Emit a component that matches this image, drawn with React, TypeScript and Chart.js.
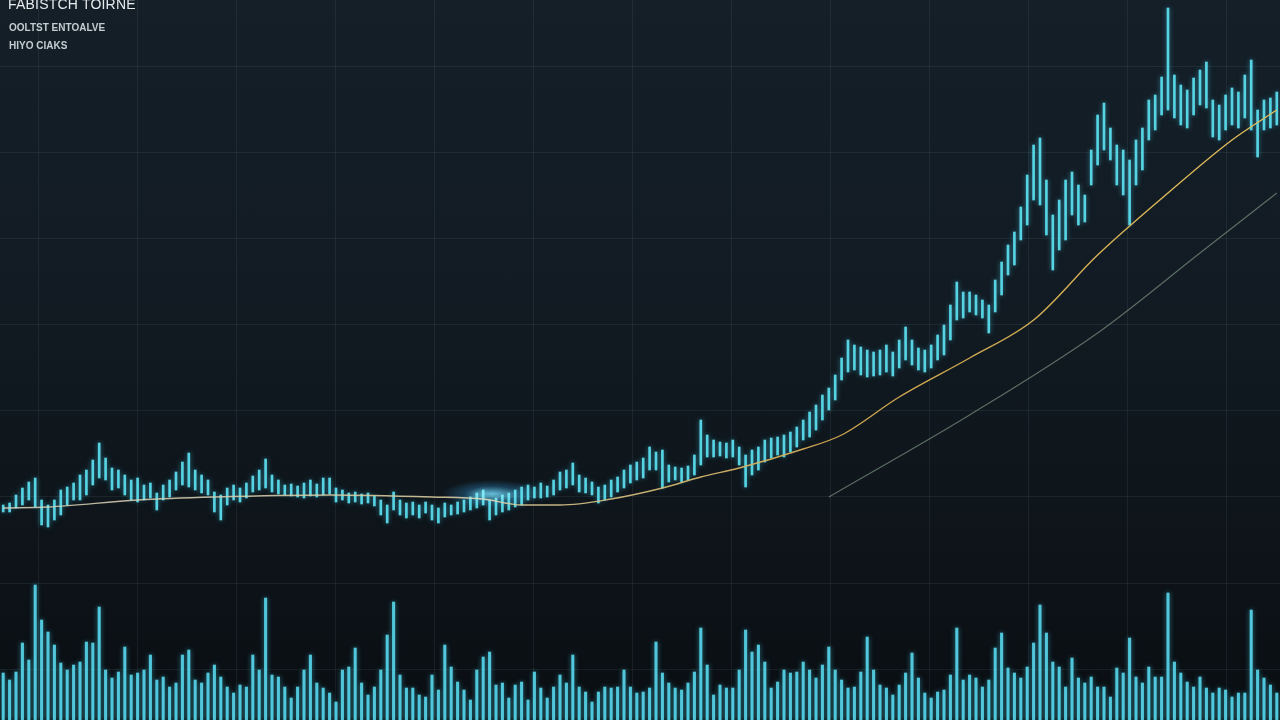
import React, { useEffect, useRef } from "react";
import { Chart, registerables } from "chart.js";

Chart.register(...registerables);

// Title texts (top-left)
const titleLine = "FABISTCH TOIRNE";
const subLine1 = "OOLTST ENTOALVE";
const subLine2 = "HIYO CIAKS";

// Price bars: high / low per session
const highs = [
  215, 217, 225, 232, 238, 242, 220, 215, 220, 230, 233, 237, 245, 250, 260, 277, 262, 252, 250, 245,
  240, 242, 235, 237, 227, 235, 240, 248, 258, 267, 250, 245, 240, 228, 225, 232, 235, 232, 237, 244,
  250, 261, 245, 240, 235, 236, 234, 237, 240, 236, 242, 242, 232, 230, 227, 228, 226, 227, 224, 220,
  215, 228, 220, 217, 218, 215, 218, 215, 212, 217, 215, 218, 220, 223, 227, 230, 220, 222, 225, 227,
  230, 233, 235, 233, 237, 234, 240, 248, 250, 257, 245, 242, 238, 233, 235, 240, 243, 250, 255, 258,
  262, 273, 268, 270, 255, 253, 252, 254, 265, 300, 285, 280, 278, 277, 280, 273, 265, 270, 273, 280,
  282, 283, 285, 288, 293, 300, 308, 315, 325, 332, 345, 362, 380, 375, 373, 370, 368, 370, 375, 368,
  380, 393, 380, 372, 370, 375, 385, 395, 415, 438, 428, 428, 425, 420, 415, 440, 458, 475, 488, 513,
  545, 575, 582, 540, 505, 520, 540, 548, 535, 525, 570, 605, 617, 592, 575, 570, 560, 580, 592, 620,
  625, 643, 712, 645, 635, 630, 642, 650, 658, 620, 615, 625, 632, 628, 645, 660, 610, 620, 622, 628,
];
const lows = [
  208, 208, 212, 215, 220, 213, 195, 193, 200, 205, 215, 220, 220, 225, 235, 242, 240, 230, 232, 225,
  220, 218, 220, 222, 210, 220, 223, 230, 235, 233, 230, 227, 225, 208, 200, 215, 220, 218, 222, 228,
  230, 232, 228, 226, 225, 224, 223, 222, 224, 223, 225, 226, 218, 220, 217, 218, 216, 217, 214, 205,
  197, 210, 205, 202, 205, 202, 207, 200, 197, 203, 205, 206, 208, 210, 212, 215, 200, 205, 208, 210,
  213, 215, 220, 222, 222, 223, 225, 230, 232, 235, 228, 227, 225, 217, 220, 223, 228, 232, 237, 240,
  242, 250, 250, 232, 238, 240, 238, 240, 245, 255, 263, 263, 264, 262, 263, 255, 233, 245, 250, 258,
  262, 265, 263, 268, 273, 280, 283, 290, 300, 310, 320, 340, 348, 350, 345, 343, 344, 345, 348, 344,
  352, 360, 355, 350, 348, 352, 360, 365, 380, 400, 402, 408, 405, 402, 387, 408, 425, 445, 455, 480,
  495, 520, 515, 485, 450, 470, 480, 505, 495, 498, 535, 555, 570, 560, 535, 525, 495, 535, 550, 580,
  590, 605, 610, 602, 595, 592, 605, 615, 612, 583, 580, 590, 595, 592, 602, 590, 563, 590, 592, 595,
];

// Volume per session
const volumes = [
  47, 40, 48, 77, 60, 135, 100, 88, 75, 57, 50, 55, 58, 78, 77, 113, 50, 42, 48, 73,
  45, 47, 50, 65, 40, 43, 33, 37, 65, 70, 40, 37, 47, 55, 43, 33, 27, 35, 33, 65,
  50, 122, 45, 43, 33, 22, 33, 50, 65, 37, 32, 27, 18, 50, 53, 72, 37, 25, 33, 50,
  85, 118, 45, 32, 32, 25, 23, 45, 30, 75, 53, 38, 30, 20, 50, 63, 68, 35, 37, 22,
  35, 38, 20, 48, 32, 22, 33, 45, 37, 65, 33, 28, 18, 28, 33, 32, 33, 50, 33, 27,
  28, 32, 78, 47, 37, 32, 30, 37, 48, 92, 55, 25, 35, 32, 32, 50, 90, 68, 75, 58,
  32, 38, 50, 47, 48, 58, 50, 42, 55, 73, 50, 40, 32, 33, 48, 83, 50, 35, 32, 25,
  35, 47, 67, 42, 27, 22, 28, 30, 45, 92, 40, 45, 42, 33, 40, 72, 87, 52, 47, 42,
  53, 77, 115, 87, 58, 53, 33, 62, 42, 37, 43, 33, 33, 23, 52, 47, 82, 43, 37, 53,
  43, 43, 127, 58, 47, 38, 33, 43, 32, 27, 32, 30, 23, 27, 27, 110, 50, 42, 35, 27,
];

// Moving average (session index, value)
const maIndex = [0, 7, 21, 33, 51, 67, 75, 81, 87, 95, 103, 109, 115, 125, 131, 140, 151, 161, 171, 182, 192, 199];
const maValue = [212, 213, 220, 223, 225, 223, 221, 215, 215, 221, 232, 243, 252, 271, 285, 323, 362, 400, 465, 527, 580, 610];

// Long moving average (session index, value)
const longIndex = [129, 151, 171, 187, 199];
const longValue = [223, 305, 387, 467, 527];

const sessionLabels = highs.map((_, i) => `T${i + 1}`);

export default function App() {
  const canvasRef = useRef<HTMLCanvasElement | null>(null);

  useEffect(() => {
    const canvas = canvasRef.current;
    if (!canvas) return;

    const glowPlugin = {
      id: "barGlow",
      beforeDatasetDraw(chart: any, args: any) {
        const ds = chart.data.datasets[args.index];
        const c = chart.ctx;
        c.save();
        if (ds.type === "bar") {
          c.shadowColor = "rgba(70, 210, 240, 0.55)";
          c.shadowBlur = 5;
        }
      },
      afterDatasetDraw(chart: any) {
        chart.ctx.restore();
      },
    };

    const gridColor = "rgba(150, 185, 205, 0.09)";

    const chart = new Chart(canvas, {
      type: "bar",
      data: {
        labels: sessionLabels,
        datasets: [
          {
            type: "bar",
            label: "Volume",
            data: volumes,
            yAxisID: "yVol",
            xAxisID: "x",
            grouped: false,
            barThickness: 2.4,
            backgroundColor: "rgba(84, 208, 228, 0.95)",
            borderWidth: 0,
            order: 3,
          } as any,
          {
            type: "bar",
            label: "Price",
            data: highs.map((h, i) => [lows[i], h]),
            yAxisID: "y",
            xAxisID: "x",
            grouped: false,
            barThickness: 2,
            backgroundColor: "rgba(92, 220, 236, 0.95)",
            borderWidth: 0,
            order: 2,
          } as any,
          {
            type: "line",
            label: "MA",
            data: maIndex.map((x, i) => ({ x, y: maValue[i] })),
            xAxisID: "xLine",
            yAxisID: "y",
            borderWidth: 1.4,
            pointRadius: 0,
            cubicInterpolationMode: "monotone",
            borderColor: (ctx: any) => {
              const area = ctx.chart.chartArea;
              if (!area) return "#d2b060";
              const g = ctx.chart.ctx.createLinearGradient(area.left, 0, area.right, 0);
              g.addColorStop(0, "rgba(215, 210, 190, 0.85)");
              g.addColorStop(0.4, "rgba(215, 200, 150, 0.9)");
              g.addColorStop(0.65, "rgba(212, 170, 80, 0.95)");
              g.addColorStop(1, "rgba(225, 190, 90, 1)");
              return g;
            },
            order: 1,
          } as any,
          {
            type: "line",
            label: "Long MA",
            data: longIndex.map((x, i) => ({ x, y: longValue[i] })),
            xAxisID: "xLine",
            yAxisID: "y",
            borderWidth: 1.2,
            pointRadius: 0,
            cubicInterpolationMode: "monotone",
            borderColor: "rgba(140, 165, 145, 0.6)",
            order: 1,
          } as any,
        ],
      },
      options: {
        responsive: false,
        animation: false,
        devicePixelRatio: 1,
        layout: { padding: 0 },
        plugins: {
          legend: { display: false },
          tooltip: { enabled: false },
          title: { display: false },
        },
        scales: {
          x: {
            type: "category",
            display: false,
            offset: true,
            grid: { display: false },
          },
          xLine: {
            type: "linear",
            display: false,
            offset: false,
            min: -0.5,
            max: 199.5,
          },
          xGrid: {
            type: "linear",
            position: "bottom",
            offset: false,
            min: -0.384,
            max: 12.545,
            display: true,
            ticks: { display: false, stepSize: 1, includeBounds: false },
            border: { display: false },
            grid: { color: gridColor, drawTicks: false, lineWidth: 1, offset: false },
          },
          y: {
            type: "linear",
            display: false,
            min: 0,
            max: 720,
          },
          yVol: {
            type: "linear",
            display: false,
            min: 0,
            max: 720,
          },
          yGrid: {
            type: "linear",
            position: "left",
            min: -0.593,
            max: 7.779,
            display: true,
            ticks: { display: false, stepSize: 1, includeBounds: false },
            border: { display: false },
            grid: { color: gridColor, drawTicks: false, lineWidth: 1 },
          },
        },
      } as any,
      plugins: [glowPlugin],
    });

    return () => {
      chart.destroy();
    };
  }, []);

  return (
    <div
      style={{
        position: "fixed",
        left: 0,
        top: 0,
        width: 1280,
        height: 720,
        overflow: "hidden",
        background:
          "linear-gradient(180deg, #141f28 0%, #121b23 40%, #0e151b 70%, #0a0e12 100%)",
      }}
    >
      <canvas
        ref={canvasRef}
        width={1280}
        height={720}
        style={{ position: "absolute", left: 0, top: 0, width: 1280, height: 720 }}
      />
      <div
        style={{
          position: "absolute",
          left: 440,
          top: 470,
          width: 110,
          height: 50,
          pointerEvents: "none",
          mixBlendMode: "screen",
          background:
            "radial-gradient(ellipse 50px 14px at 52px 24px, rgba(110, 220, 255, 0.85), rgba(40, 150, 220, 0.3) 55%, rgba(0,0,0,0) 100%)",
        }}
      />
      <div
        style={{
          position: "absolute",
          left: 8,
          top: -4,
          fontFamily: "'Liberation Sans Narrow', 'Liberation Sans', Arial, sans-serif",
          color: "#e6ebee",
          fontSize: 14,
          letterSpacing: 0.2,
          lineHeight: "17px",
          whiteSpace: "nowrap",
        }}
      >
        {titleLine}
      </div>
      <div
        style={{
          position: "absolute",
          left: 9,
          top: 22,
          fontFamily: "'Liberation Sans', Arial, sans-serif",
          color: "#c3ccd1",
          fontSize: 10,
          fontWeight: 600,
          lineHeight: "12px",
          whiteSpace: "nowrap",
        }}
      >
        {subLine1}
      </div>
      <div
        style={{
          position: "absolute",
          left: 9,
          top: 40,
          fontFamily: "'Liberation Sans', Arial, sans-serif",
          color: "#c3ccd1",
          fontSize: 10,
          fontWeight: 600,
          lineHeight: "12px",
          whiteSpace: "nowrap",
        }}
      >
        {subLine2}
      </div>
    </div>
  );
}
